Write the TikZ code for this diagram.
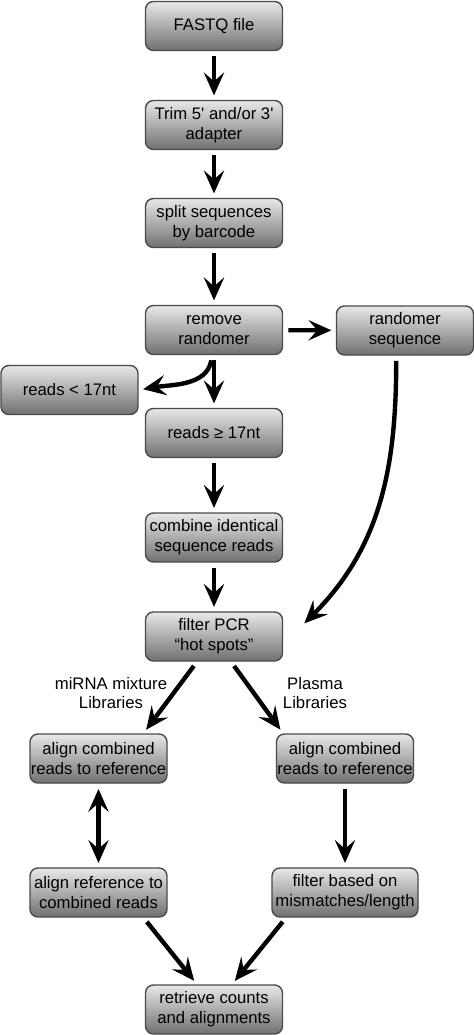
\documentclass[tikz,border=0pt]{standalone}
\usepackage{fontspec}
\setmainfont{Liberation Sans}
\usetikzlibrary{arrows.meta}
\definecolor{boxline}{HTML}{4A4A4A}

\begin{document}
\begin{tikzpicture}[
    box/.style={rectangle, rounded corners=4.5pt, draw=boxline, line width=0.8pt, top color=black!9, bottom color=black!56, minimum width=2.74cm, minimum height=0.98cm, inner sep=0pt, align=center, font=\fontsize{9.5}{11.3}\selectfont},
    >={Stealth[length=13pt,width=11.5pt,inset=5pt]},
    flow/.style={->, line width=2.5pt, shorten <=3pt, shorten >=2.5pt},
    lbl/.style={align=center, font=\fontsize{9.5}{11.3}\selectfont}
  ]
  \useasboundingbox (0,0) rectangle (9.48,-20.7);

  % Main column
  \node[box] (fastq) at (4.28,-0.52) {FASTQ file};
  \node[box] (trim) at (4.28,-2.50) {Trim 5\textquotesingle{} and/or 3\textquotesingle\\adapter};
  \node[box] (split) at (4.28,-4.46) {split sequences\\by barcode};
  \node[box] (remove) at (4.28,-6.60) {remove\\randomer};
  \node[box] (randseq) at (8.10,-6.61) {randomer\\sequence};
  \node[box] (short) at (1.39,-7.80) {reads < 17nt};
  \node[box] (long) at (4.28,-8.66) {reads ≥ 17nt};
  \node[box] (combine) at (4.28,-10.75) {combine identical\\sequence reads};
  \node[box] (filter) at (4.28,-12.73) {filter PCR\\``hot spots''};

  % Two branches
  \node[box] (alignL) at (1.97,-15.17) {align combined\\reads to reference};
  \node[box] (alignR) at (6.90,-15.17) {align combined\\reads to reference};
  \node[box] (alignRef) at (1.97,-17.85) {align reference to\\combined reads};
  \node[box, minimum width=2.92cm] (filterMM) at (6.90,-17.85) {filter based on\\mismatches/length};
  \node[box] (retrieve) at (4.28,-20.19) {retrieve counts\\and alignments};

  % Labels
  \node[lbl] (mixlbl) at (2.22,-13.86) {miRNA mixture\\Libraries};
  \node[lbl] (plasmalbl) at (6.30,-13.86) {Plasma\\Libraries};

  % Arrows
  \draw[flow] (fastq) -- (trim);
  \draw[flow] (trim) -- (split);
  \draw[flow] (split) -- (remove);
  \draw[flow] (remove) -- (randseq);
  \draw[flow] ([xshift=-1pt]remove.south) to[out=-100,in=10] (short.east);
  \draw[flow] (remove) -- (long);
  \draw[flow] (long) -- (combine);
  \draw[flow] (combine) -- (filter);
  \draw[flow] ([xshift=-5pt]randseq.south) to[out=-90,in=45] ([xshift=0.36cm,yshift=0.2cm]filter.east);
  \draw[flow] ([xshift=-0.34cm]filter.south) -- ([xshift=0.9cm]alignL.north);
  \draw[flow] ([xshift=0.34cm]filter.south) -- ([xshift=-1.24cm]alignR.north);
  \draw[flow, <->] (alignL) -- (alignRef);
  \draw[flow] (alignR) -- (filterMM);
  \draw[flow] ([xshift=0.9cm]alignRef.south) -- ([xshift=-0.34cm]retrieve.north);
  \draw[flow] ([xshift=-1.18cm]filterMM.south) -- ([xshift=0.36cm]retrieve.north);
\end{tikzpicture}
\end{document}
